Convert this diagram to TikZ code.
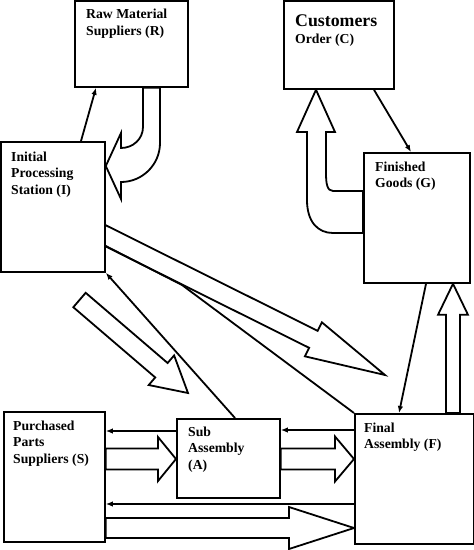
\documentclass[tikz,border=0pt]{standalone}
\usepackage{fontspec}
\setmainfont{Liberation Serif}
\usetikzlibrary{calc,arrows.meta,backgrounds}

% tail, tip, half shaft width, half head width, head length
\newcommand{\hollowarrow}[5]{%
  \coordinate (hb) at ($(#2)!#5!(#1)$);
  \draw[hollow] ($(#1)!#3!90:(#2)$) -- ($(hb)!#3!90:(#2)$) -- ($(hb)!#4!90:(#2)$) -- (#2)
    -- ($(hb)!#4!-90:(#2)$) -- ($(hb)!#3!-90:(#2)$) -- ($(#1)!#3!-90:(#2)$) -- cycle;
}

\begin{document}
\begin{tikzpicture}[x=1pt, y=-1pt,
    box/.style={draw, fill=white, line width=1.8pt, anchor=north west, inner sep=0pt},
    lbl/.style={anchor=base west, align=left, inner sep=0pt, font=\fontsize{13.7}{16.5}\selectfont\bfseries},
    flow/.style={line width=1.8pt, -{Latex[length=7pt, width=5.5pt]}},
    hollow/.style={draw, fill=white, line width=1.8pt, line join=miter}]
    \useasboundingbox (0,0) rectangle (474,550);
    % stations
    \node[box, minimum width=113pt, minimum height=86pt] (R) at (74,0) {};
    \node[box, minimum width=110pt, minimum height=88pt] (C) at (283,0) {};
    \node[box, minimum width=104pt, minimum height=130pt] (I) at (0,141) {};
    \node[box, minimum width=106pt, minimum height=130pt] (G) at (363,152) {};
    \node[box, minimum width=101pt, minimum height=130pt] (S) at (3,411) {};
    \node[box, minimum width=103pt, minimum height=79pt] (A) at (176,418) {};
    \node[box, minimum width=119pt, minimum height=130pt] (F) at (354,413) {};
    % labels, placed by their last baseline
    \node[lbl] at (86,35) {Raw Material\\Suppliers (R)};
    \node[lbl] at (295,43) {{\fontsize{17.8}{17}\selectfont Customers}\\Order (C)};
    \node[lbl] at (11,194) {Initial\\Processing\\Station (I)};
    \node[lbl] at (375,187.5) {Finished\\Goods (G)};
    \node[lbl] at (13,463) {Purchased\\Parts\\Suppliers (S)};
    \node[lbl] at (188,469) {Sub\\Assembly\\(A)};
    \node[lbl] at (364,448.5) {Final\\Assembly (F)};
    % material flows
    \begin{scope}[on background layer]
        \coordinate (sa0) at (S.east |- 0,459);
        \coordinate (sa1) at (A.west |- 0,459);
        \hollowarrow{sa0}{sa1}{10.5pt}{22pt}{18pt}
        \coordinate (af0) at (A.east |- 0,459);
        \coordinate (af1) at (F.west |- 0,459);
        \hollowarrow{af0}{af1}{10.5pt}{22.5pt}{19pt}
        \coordinate (sf0) at (S.east |- 0,528);
        \coordinate (sf1) at (F.west |- 0,528);
        \hollowarrow{sf0}{sf1}{10pt}{21pt}{65pt}
        \coordinate (fg0) at (453,0 |- F.north);
        \coordinate (fg1) at (453,0 |- G.south);
        \hollowarrow{fg0}{fg1}{7pt}{15pt}{31pt}
        \coordinate (if0) at (95,230.5);
        \coordinate (if1) at (385,375);
        \hollowarrow{if0}{if1}{9.5pt}{19pt}{80pt}
        \coordinate (fr0) at (79.5,300);
        \coordinate (fr1) at (188,393);
        \hollowarrow{fr0}{fr1}{9.5pt}{19.5pt}{35pt}
        \draw[hollow] (143,0 |- R.south) -- (143,127) .. controls (143,139) and (133,148) .. (121,148)
            -- (121,133) -- (I.east |- 0,166) -- (121,199) -- (121,182)
            .. controls (142.5,182) and (160,164.5) .. (160,143) -- (160,0 |- R.south) -- cycle;
        \draw[hollow] (G.west |- 0,191) -- (333,191) .. controls (327,191) and (326,183) .. (326,173)
            -- (326,132) -- (335,132) -- (316,0 |- C.south) -- (297,132) -- (307,132)
            -- (307,200) .. controls (307,222) and (318,233) .. (333,233) -- (G.west |- 0,233) -- cycle;
    \end{scope}
    % information flows
    \draw[flow] (81,0 |- I.north) -- (96,0 |- R.south);
    \draw[flow] (374,0 |- C.south) -- (411,0 |- G.north);
    \draw[flow] (426,0 |- G.south) -- (399,0 |- F.north);
    \draw[flow] (A.west |- 0,431) -- (S.east |- 0,431);
    \draw[flow] (F.west |- 0,430) -- (A.east |- 0,430);
    \draw[flow] (F.west |- 0,504) -- (S.east |- 0,504);
    \draw[flow] (235,0 |- A.north) -- (I.south east);
    \draw[line width=1.8pt] (I.east |- 0,246) -- (182,285) -- (F.north west);
\end{tikzpicture}
\end{document}
